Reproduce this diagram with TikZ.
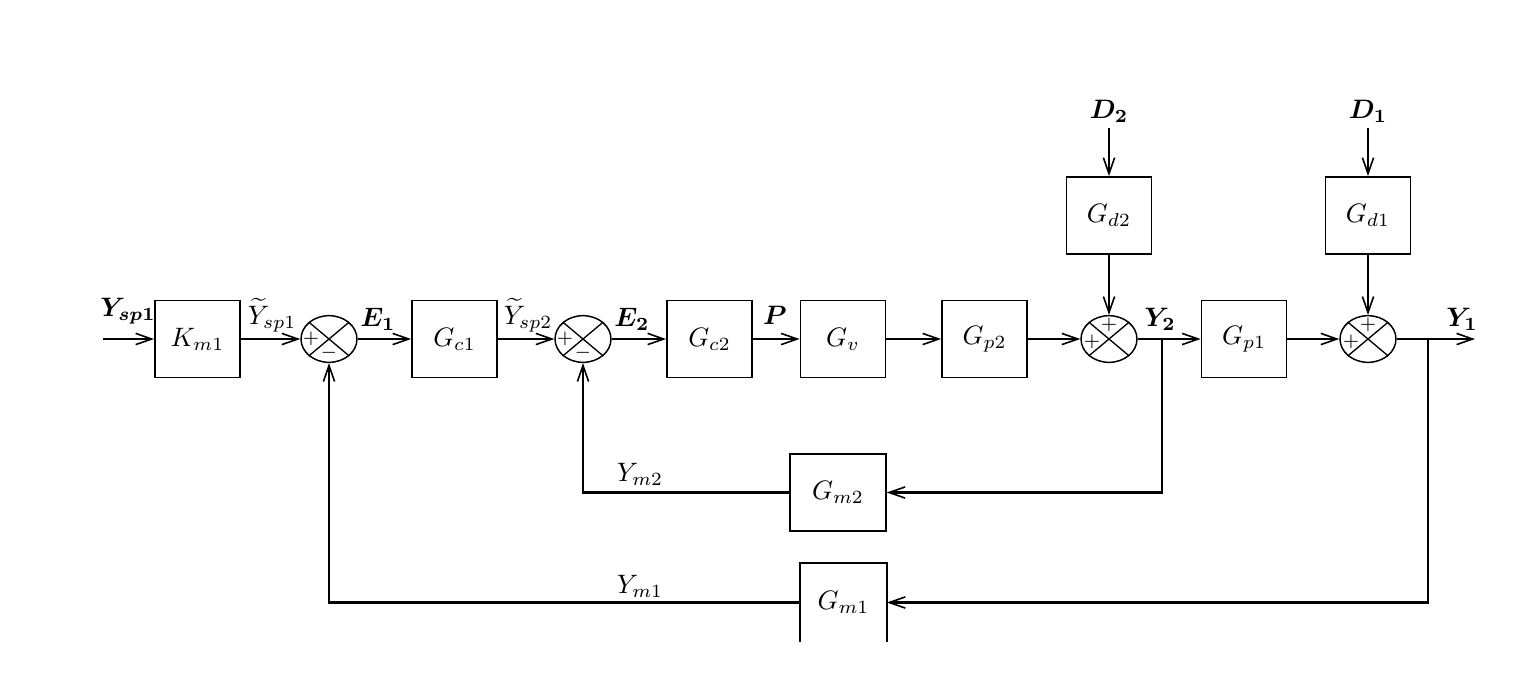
\documentclass[tikz,border=0pt]{standalone}
\usepackage{bm}
\usetikzlibrary{shapes.geometric,arrows.meta}
\begin{document}
\begin{tikzpicture}[x=0.375pt,y=-0.375pt,
  >={Straight Barb[length=6pt,width=4.2pt,line width=0.6pt]},
  blk/.style={draw,line width=0.55pt,minimum width=32pt,minimum height=29pt,inner sep=0pt},
  sumn/.style={draw,ellipse,line width=0.55pt,minimum width=21pt,minimum height=17.5pt,inner sep=0pt},
  sig/.style={line width=1.1pt},
  lbl/.style={inner sep=0pt},
  sgn/.style={inner sep=0pt,font=\scriptsize}]
\useasboundingbox (0,0) rectangle (1530,688);

% blocks
\node[blk] (Km1) at (197.5,339) {$K_{m1}$};
\node[sumn] (s1) at (329,339) {};
\node[blk] (Gc1) at (454.5,339) {$G_{c1}$};
\node[sumn] (s2) at (583,339) {};
\node[blk] (Gc2) at (709.5,339) {$G_{c2}$};
\node[blk] (Gv) at (843,339) {$G_{v}$};
\node[blk] (Gp2) at (984.5,339) {$G_{p2}$};
\node[sumn] (s3) at (1109,339) {};
\node[blk] (Gp1) at (1244,339) {$G_{p1}$};
\node[sumn] (s4) at (1368,339) {};
\node[blk] (Gd2) at (1109,215.5) {$G_{d2}$};
\node[blk] (Gd1) at (1368,215.5) {$G_{d1}$};
\node[blk,minimum width=36pt] (Gm2) at (838,492.5) {$G_{m2}$};
\node[blk,draw=none] (Gm1) at (843.5,602.5) {$G_{m1}$};
\draw[line width=0.55pt] (Gm1.south west) -- (Gm1.north west) -- (Gm1.north east) -- (Gm1.south east);

% crosses in summing junctions
\foreach \s in {s1,s2,s3,s4}{
  \draw[line width=0.5pt] (\s.north east) -- (\s.south west);
  \draw[line width=0.5pt] (\s.north west) -- (\s.south east);
}
\node[sgn] (p1) at (311,339) {$+$};
\node[sgn] (m1) at (329,353) {$-$};
\node[sgn] (p2) at (565,339) {$+$};
\node[sgn] (m2) at (583,353) {$-$};
\node[sgn] (p3a) at (1092,342) {$+$};
\node[sgn] (p3b) at (1109,325) {$+$};
\node[sgn] (p4a) at (1351,342) {$+$};
\node[sgn] (p4b) at (1368,325) {$+$};

% coordinates
\coordinate (in) at (103,339);
\coordinate (out) at (1475,339);
\coordinate (b2) at (1162,339);
\coordinate (b1) at (1428,339);

% labels
\node[lbl] (Lysp1) at (128,311) {$\bm{Y_{sp1}}$};
\node[lbl] (Lyt1) at (272,315) {$\widetilde{Y}_{sp1}$};
\node[lbl] (Le1) at (378,319) {$\bm{E_1}$};
\node[lbl] (Lyt2) at (528,315) {$\widetilde{Y}_{sp2}$};
\node[lbl] (Le2) at (632,319) {$\bm{E_2}$};
\node[lbl] (Lp) at (775,315) {$\bm{P}$};
\node[lbl] (Ly2) at (1160,319) {$\bm{Y_2}$};
\node[lbl] (Ly1) at (1462,319) {$\bm{Y_1}$};
\node[lbl] (D2) at (1109,111) {$\bm{D_2}$};
\node[lbl] (D1) at (1368,111) {$\bm{D_1}$};
\node[lbl] (Lym2) at (640,474) {$Y_{m2}$};
\node[lbl] (Lym1) at (640,586) {$Y_{m1}$};

% connectors
\draw[sig,->] (in) -- (Km1);
\draw[sig,->] (Km1) -- (s1);
\draw[sig,->] (s1) -- (Gc1);
\draw[sig,->] (Gc1) -- (s2);
\draw[sig,->] (s2) -- (Gc2);
\draw[sig,->] (Gc2) -- (Gv);
\draw[sig,->] (Gv) -- (Gp2);
\draw[sig,->] (Gp2) -- (s3);
\draw[sig,->] (s3) -- (Gp1);
\draw[sig,->] (Gp1) -- (s4);
\draw[sig,->] (s4) -- (out);
\draw[sig,->] ([yshift=-2pt]D2.south) -- (Gd2);
\draw[sig,->] ([yshift=-2pt]D1.south) -- (Gd1);
\draw[sig,->] (Gd2) -- (s3);
\draw[sig,->] (Gd1) -- (s4);
\draw[sig,->] (b2) |- (Gm2.east);
\draw[sig,->] (Gm2.west) -| (s2.south);
\draw[sig,->] (b1) |- (Gm1.east);
\draw[sig,->] (Gm1.west) -| (s1.south);
\end{tikzpicture}
\end{document}
